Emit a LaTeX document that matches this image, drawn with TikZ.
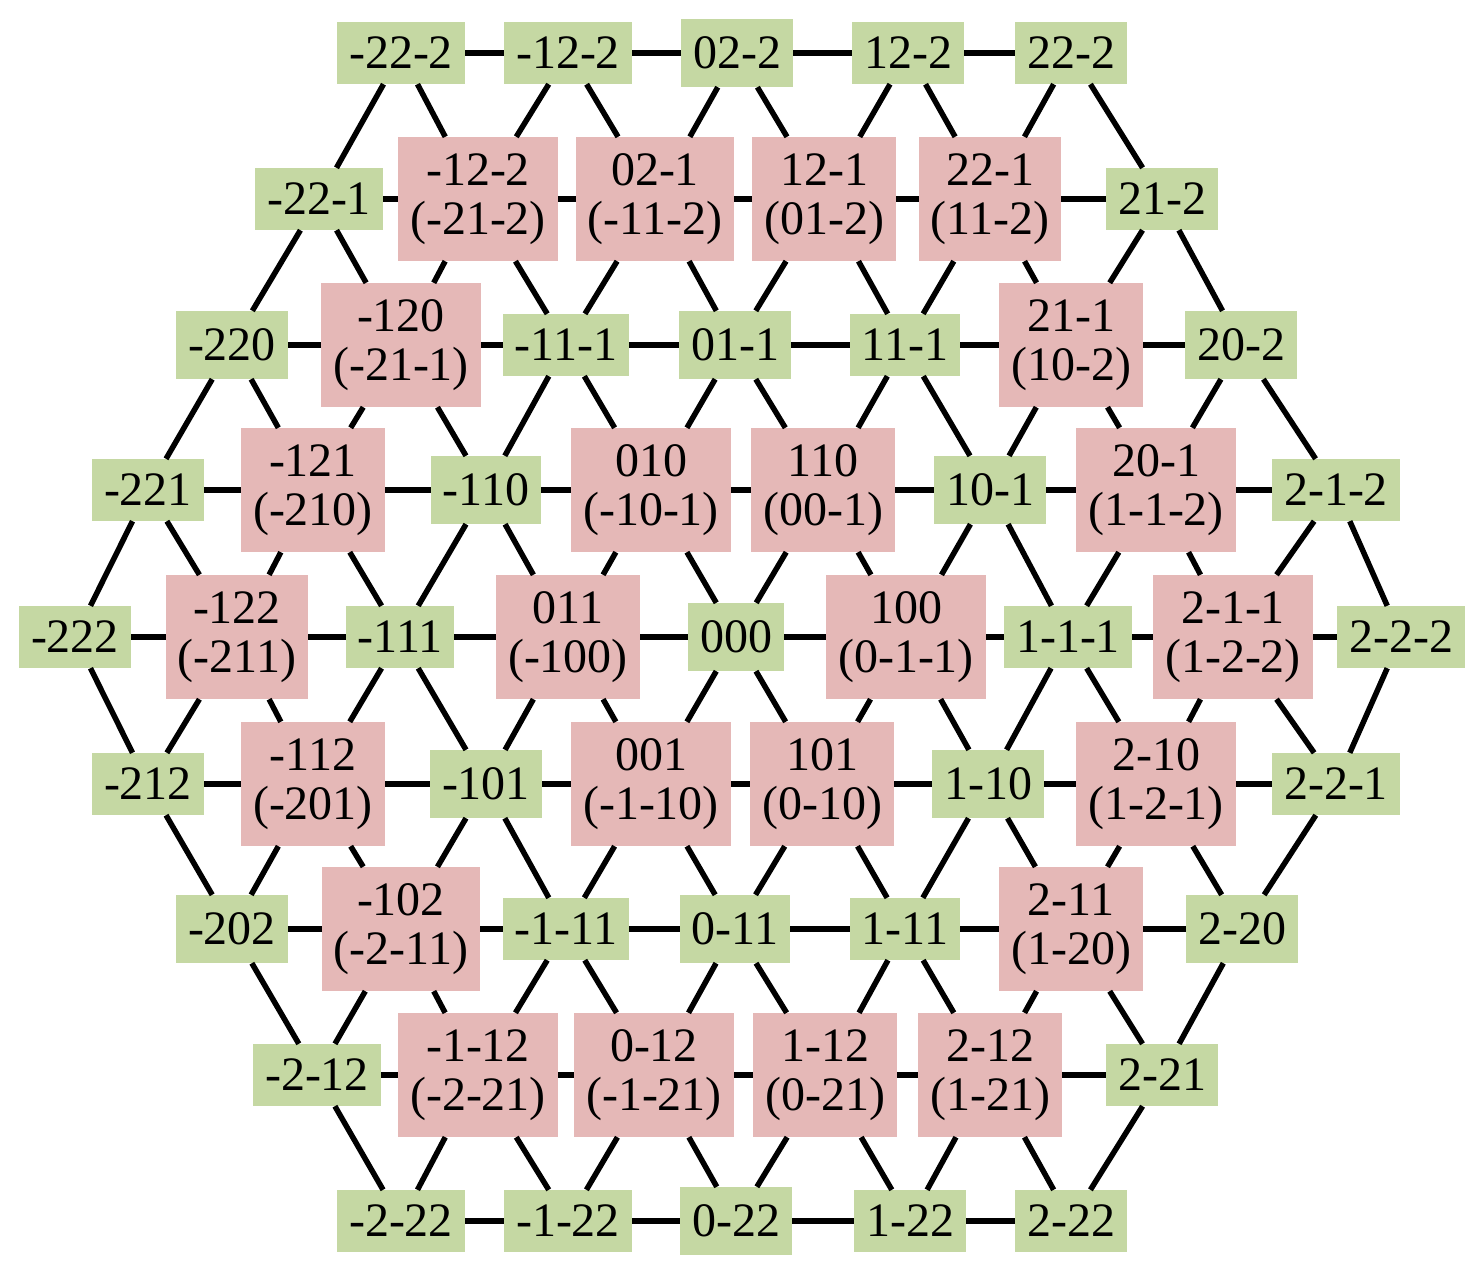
\documentclass[tikz,border=0pt]{standalone}
\usepackage{fontspec}
\setmainfont{Liberation Serif}
\definecolor{gfill}{RGB}{197,216,163}
\definecolor{pfill}{RGB}{229,184,183}
\tikzset{
  lat/.style={inner xsep=12pt, inner ysep=0pt, align=center, anchor=center,
    font=\fontsize{48}{49}\selectfont},
  gn/.style={lat, fill=gfill, minimum height=62pt},
  gz/.style={lat, fill=gfill, minimum height=68pt},
  pk/.style={lat, fill=pfill, minimum height=124pt},
  latline/.style={line width=5.5pt, black}
}
\begin{document}
\begin{tikzpicture}[x=1pt,y=-1pt]
\useasboundingbox (0,0) rectangle (1483,1277);
% row 0
\foreach \x/\t/\s [count=\i from 0] in {401/-22-2/gn, 568/-12-2/gn, 737/02-2/gz, 908/12-2/gn, 1071/22-2/gn}
  \node[\s] (n0-\i) at (\x,53) {\t};
% row 1
\foreach \x/\t/\s [count=\i from 0] in {319/-22-1/gn, 478/{-12-2\\(-21-2)}/pk, 655/{02-1\\(-11-2)}/pk, 824/{12-1\\(01-2)}/pk, 990/{22-1\\(11-2)}/pk, 1162/21-2/gn}
  \node[\s] (n1-\i) at (\x,199) {\t};
% row 2
\foreach \x/\t/\s [count=\i from 0] in {232/-220/gz, 401/{-120\\(-21-1)}/pk, 566/-11-1/gn, 735/01-1/gz, 905/11-1/gn, 1071/{21-1\\(10-2)}/pk, 1241/20-2/gz}
  \node[\s] (n2-\i) at (\x,345) {\t};
% row 3
\foreach \x/\t/\s [count=\i from 0] in {148/-221/gn, 313/{-121\\(-210)}/pk, 486/-110/gz, 651/{010\\(-10-1)}/pk, 823/{110\\(00-1)}/pk, 990/10-1/gz, 1156/{20-1\\(1-1-2)}/pk, 1336/2-1-2/gn}
  \node[\s] (n3-\i) at (\x,490) {\t};
% row 4
\foreach \x/\t/\s [count=\i from 0] in {75/-222/gn, 237/{-122\\(-211)}/pk, 400/-111/gn, 568/{011\\(-100)}/pk, 736/000/gz, 906/{100\\(0-1-1)}/pk, 1068/1-1-1/gn, 1233/{2-1-1\\(1-2-2)}/pk, 1401/2-2-2/gn}
  \node[\s] (n4-\i) at (\x,637) {\t};
% row 5
\foreach \x/\t/\s [count=\i from 0] in {148/-212/gn, 313/{-112\\(-201)}/pk, 486/-101/gz, 651/{001\\(-1-10)}/pk, 822/{101\\(0-10)}/pk, 988/1-10/gz, 1156/{2-10\\(1-2-1)}/pk, 1336/2-2-1/gn}
  \node[\s] (n5-\i) at (\x,784) {\t};
% row 6
\foreach \x/\t/\s [count=\i from 0] in {232/-202/gz, 401/{-102\\(-2-11)}/pk, 566/-1-11/gn, 735/0-11/gz, 905/1-11/gn, 1071/{2-11\\(1-20)}/pk, 1242/2-20/gz}
  \node[\s] (n6-\i) at (\x,929) {\t};
% row 7
\foreach \x/\t/\s [count=\i from 0] in {317/-2-12/gn, 478/{-1-12\\(-2-21)}/pk, 654/{0-12\\(-1-21)}/pk, 825/{1-12\\(0-21)}/pk, 990/{2-12\\(1-21)}/pk, 1162/2-21/gn}
  \node[\s] (n7-\i) at (\x,1075) {\t};
% row 8
\foreach \x/\t/\s [count=\i from 0] in {401/-2-22/gn, 568/-1-22/gn, 736/0-22/gz, 910/1-22/gn, 1071/2-22/gn}
  \node[\s] (n8-\i) at (\x,1221) {\t};
% horizontal connectors
\foreach \r/\m in {0/3,1/4,2/5,3/6,4/7,5/6,6/5,7/4,8/3}
  \foreach \i in {0,...,\m} {
    \pgfmathtruncatemacro\j{\i+1}
    \draw[latline] (n\r-\i) -- (n\r-\j);
  }
% upper diagonals
\foreach \r/\m in {0/4,1/5,2/6,3/7}
  \foreach \i in {0,...,\m} {
    \pgfmathtruncatemacro\j{\i+1}
    \pgfmathtruncatemacro\rr{\r+1}
    \draw[latline] (n\r-\i) -- (n\rr-\i);
    \draw[latline] (n\r-\i) -- (n\rr-\j);
  }
% lower diagonals
\foreach \r/\m in {4/7,5/6,6/5,7/4}
  \foreach \i in {0,...,\m} {
    \pgfmathtruncatemacro\j{\i+1}
    \pgfmathtruncatemacro\rr{\r+1}
    \draw[latline] (n\rr-\i) -- (n\r-\i);
    \draw[latline] (n\rr-\i) -- (n\r-\j);
  }
\end{tikzpicture}
\end{document}
